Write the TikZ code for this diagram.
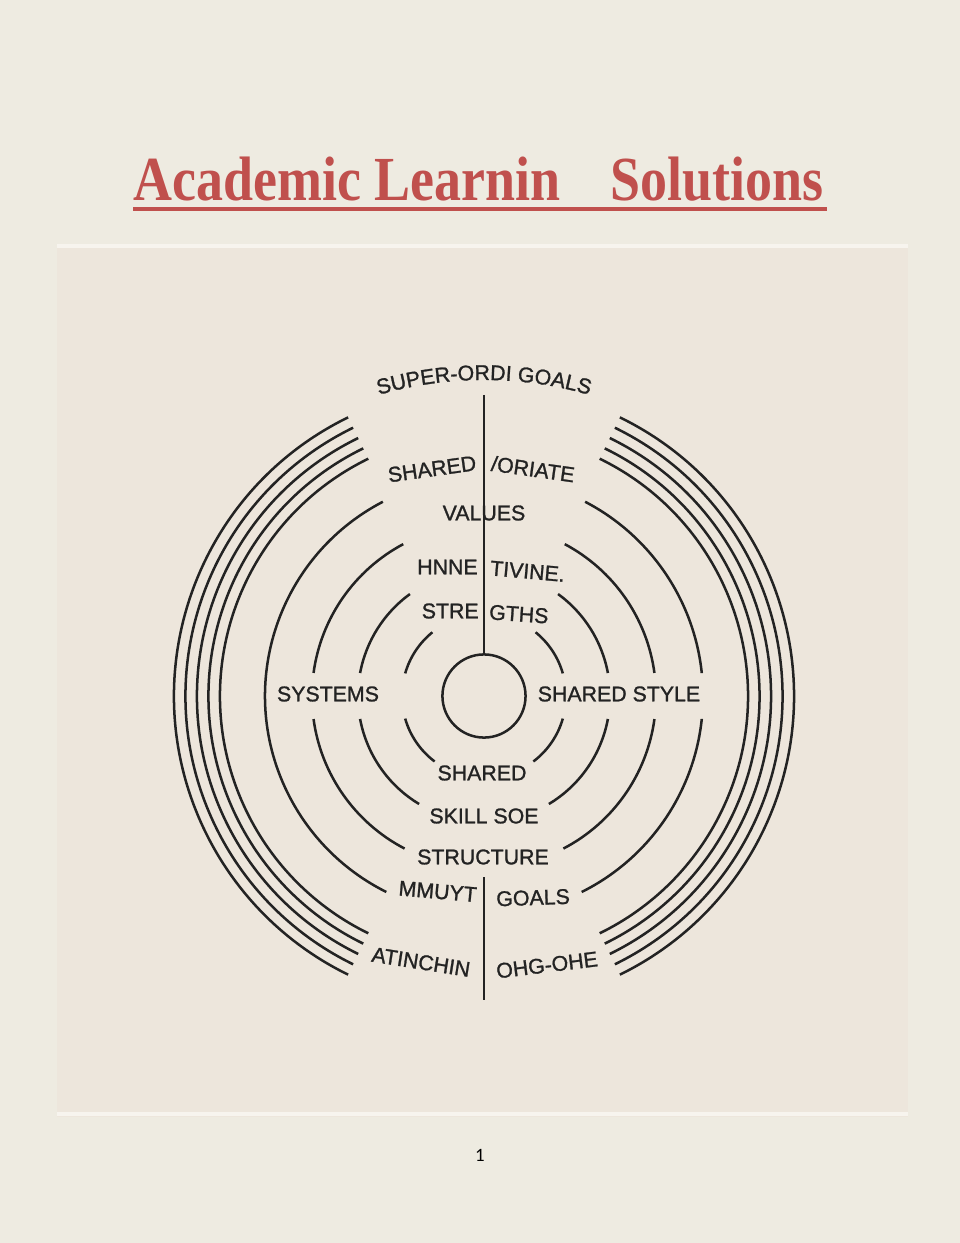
\documentclass[tikz,border=0pt]{standalone}
\usepackage{fontspec}
\setmainfont{Liberation Sans}
\newfontfamily\titlefont[FakeStretch=0.86]{Liberation Serif}
\newfontfamily\lblfont[FakeBold=1.2]{Liberation Sans}
\newfontfamily\pagefont{Carlito}
\usetikzlibrary{positioning, decorations.text}

\definecolor{pagebg}{HTML}{EEEBE1}
\definecolor{panelbg}{HTML}{EDE6DC}
\definecolor{panelhi}{HTML}{F7F4EE}
\definecolor{titlered}{HTML}{C0504D}
\definecolor{ink}{HTML}{232323}

\tikzset{
  ring/.style={draw=ink, line width=1.6pt},
  stem/.style={draw=ink, line width=1.3pt},
  lbl/.style={text=ink, font=\lblfont\fontsize{13.6}{15}\selectfont, inner sep=0pt},
}

\begin{document}
\begin{tikzpicture}[x=0.6375pt, y=0.6375pt]
    % page and panel
    \path[use as bounding box] (-484,696) rectangle (476,-547);
    \fill[pagebg] (-484,696) rectangle (476,-547);
    \fill[panelbg] (-427,451) rectangle (424,-421);
    \draw[panelhi, line width=2pt] (-427,450) -- (424,450);
    \draw[panelhi, line width=2pt] (-427,-418) -- (424,-418);

    % title
    \node[anchor=base west, inner sep=0pt, text=titlered, font=\titlefont\bfseries\fontsize{40}{44}\selectfont] (title) at (-351,495) {Academic Learnin\hspace{0.8em}Solutions};
    \fill[titlered] (-351,489) rectangle (343,485);

    % hub and stems
    \node[circle, draw=ink, line width=1.6pt, minimum size=53pt, inner sep=0pt] (hub) at (0,0) {};
    \coordinate (stemtop) at (0,301);
    \coordinate (stemlow) at (0,-181);
    \coordinate (stembot) at (0,-304);

    % outer bands
    \draw[ring] (116:264) arc[start angle=116, end angle=244, radius=264];
    \draw[ring] (116:275.5) arc[start angle=116, end angle=244, radius=275.5];
    \draw[ring] (116:287) arc[start angle=116, end angle=244, radius=287];
    \draw[ring] (116:298.5) arc[start angle=116, end angle=244, radius=298.5];
    \draw[ring] (116:310) arc[start angle=116, end angle=244, radius=310];
    \draw[ring] (64:264) arc[start angle=64, end angle=-64, radius=264];
    \draw[ring] (64:275.5) arc[start angle=64, end angle=-64, radius=275.5];
    \draw[ring] (64:287) arc[start angle=64, end angle=-64, radius=287];
    \draw[ring] (64:298.5) arc[start angle=64, end angle=-64, radius=298.5];
    \draw[ring] (64:310) arc[start angle=64, end angle=-64, radius=310];

    % inner rings, left
    \draw[ring] (129:82) arc[start angle=129, end angle=164, radius=82];
    \draw[ring] (196:82) arc[start angle=196, end angle=233, radius=82];
    \draw[ring] (126:126) arc[start angle=126, end angle=169.5, radius=126];
    \draw[ring] (190.5:126) arc[start angle=190.5, end angle=239, radius=126];
    \draw[ring] (118:172) arc[start angle=118, end angle=172.3, radius=172];
    \draw[ring] (187.7:172) arc[start angle=187.7, end angle=242.5, radius=172];
    \draw[ring] (117.5:219) arc[start angle=117.5, end angle=243.5, radius=219];
    % inner rings, right
    \draw[ring] (51:82) arc[start angle=51, end angle=16, radius=82];
    \draw[ring] (-16:82) arc[start angle=-16, end angle=-53, radius=82];
    \draw[ring] (54:126) arc[start angle=54, end angle=10.5, radius=126];
    \draw[ring] (-10.5:126) arc[start angle=-10.5, end angle=-59, radius=126];
    \draw[ring] (62:172) arc[start angle=62, end angle=7.7, radius=172];
    \draw[ring] (-7.7:172) arc[start angle=-7.7, end angle=-62.5, radius=172];
    \draw[ring] (62.5:219) arc[start angle=62.5, end angle=6, radius=219];
    \draw[ring] (-6:219) arc[start angle=-6, end angle=-63.5, radius=219];

    % labels
    \path[decorate, decoration={text along path, text align=center,
        text={|\lblfont\fontsize{13.6}{15}\selectfont\color{ink}|SUPER-ORDI GOALS}}]
        (0,-64) ++(120:380) arc[start angle=120, end angle=60, radius=380];
    \node[lbl, rotate=8] (shared1) at (-52,227) {SHARED};
    \node[lbl, rotate=-8] (oriate) at (49,227) {/ORIATE};
    \node[lbl] (values) at (0,183) {VALUES};
    \node[lbl, anchor=east] (hnne) at (-6,129) {HNNE};
    \node[lbl, anchor=west, rotate=-5] (tivine) at (6,128) {TIVINE.};
    \node[lbl, anchor=east] (stre) at (-5,85) {STRE};
    \node[lbl, anchor=west, rotate=-4] (gths) at (5,84) {GTHS};
    \node[lbl] (systems) at (-156,2) {SYSTEMS};
    \node[lbl] (style) at (135,2) {SHARED STYLE};
    \node[lbl] (shared2) at (-2,-77) {SHARED};
    \node[lbl] (skill) at (0,-120) {SKILL SOE};
    \node[lbl] (structure) at (-1,-161) {STRUCTURE};
    \node[lbl, anchor=east, rotate=-5] (mmuyt) at (-7,-199) {MMUYT};
    \node[lbl, anchor=west, rotate=2] (goals) at (12,-203) {GOALS};
    \node[lbl, rotate=-9] (atinchin) at (-63,-266) {ATINCHIN};
    \node[lbl, rotate=7] (ohgohe) at (63,-269) {OHG-OHE};

    \draw[stem] (stemtop) -- (hub.north);
    \draw[stem] (stemlow) -- (stembot);

    % page number
    \node[font=\pagefont\fontsize{12}{14}\selectfont, inner sep=0pt] (pagenum) at (-4,-459) {1};
\end{tikzpicture}
\end{document}
